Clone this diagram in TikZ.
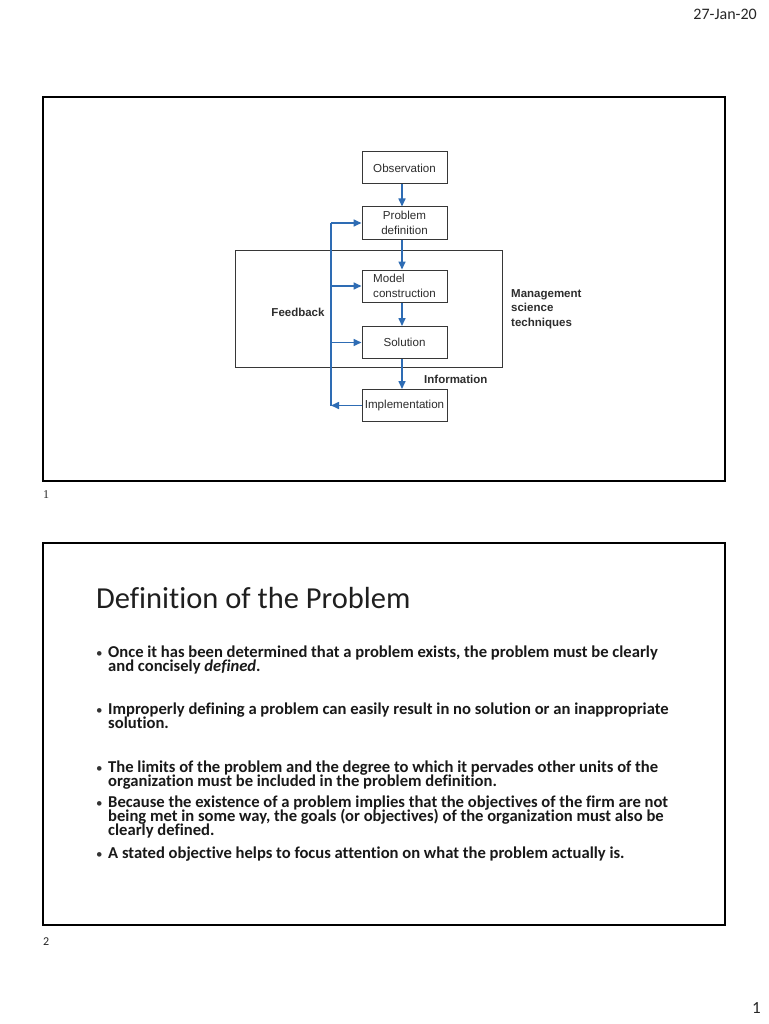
\documentclass[tikz,border=0pt]{standalone}
\usepackage{fontspec}
\setmainfont{Liberation Sans}
\newfontfamily\calibri[Ligatures={NoCommon,NoContextual}]{Carlito}
\newfontfamily\serifnum{Liberation Serif}
\usetikzlibrary{arrows.meta}
\definecolor{fbblue}{RGB}{46,108,180}
\definecolor{boxgray}{RGB}{55,55,55}
\definecolor{txtgray}{RGB}{45,45,45}
\begin{document}
\begin{tikzpicture}[x=1pt,y=-1pt,
 stepbox/.style={draw=boxgray, line width=1pt, minimum width=85pt, minimum height=32pt, inner sep=1pt, font=\fontsize{11.6}{14.5}\selectfont, text=txtgray},
 flow/.style={draw=fbblue, line width=1.6pt, -{Triangle[length=8pt,width=7pt]}},
 fbline/.style={draw=fbblue, line width=1.6pt},
 lbl/.style={font=\bfseries\fontsize{11.5}{14.5}\selectfont, text=txtgray},
 slide/.style={draw=black, line width=1.2pt},
 body/.style={anchor=base west, inner sep=0pt, font=\calibri\bfseries\fontsize{16.6}{14}\selectfont, text=black!90},
 dot/.style={anchor=base west, inner sep=0pt, font=\calibri\fontsize{13}{14}\selectfont, text=black!80},
 plain/.style={inner sep=0pt, text=black!85},
]
\useasboundingbox (0,0) rectangle (768,1024);
\fill[white] (0,0) rectangle (768,1024);

% header and page numbers
\node[plain, anchor=base east, font=\calibri\fontsize{16}{18}\selectfont] (date) at (757,19.5) {27-Jan-20};
\node[plain, anchor=base west, font=\serifnum\fontsize{12}{14}\selectfont] (n1) at (43,498) {1};
\node[plain, anchor=base west, font=\calibri\fontsize{12}{14}\selectfont] (n2) at (43,945) {2};
\node[plain, anchor=base east, font=\calibri\fontsize{17}{18}\selectfont] (pg) at (761,1013) {1};

% slide frames
\node[slide, minimum width=682pt, minimum height=384pt, inner sep=0pt] (slideA) at (384,289) {};
\node[slide, minimum width=682pt, minimum height=382pt, inner sep=0pt] (slideB) at (384,734) {};

% ---------- diagram ----------
\node[draw=boxgray, line width=1pt, minimum width=267pt, minimum height=117pt, inner sep=0pt] (mst) at (368.5,308.5) {};

\node[stepbox] (obs) at (404.5,168) {Observation};
\node[stepbox, align=center] (prob) at (404.5,223) {Problem\\definition};
\node[stepbox, align=left] (model) at (404.5,286) {Model\\construction};
\node[stepbox] (sol) at (404.5,342.5) {Solution};
\node[stepbox] (impl) at (404.5,405.5) {Implementation};

\draw[flow] ([xshift=-2.5pt]obs.south) -- ([xshift=-2.5pt]prob.north);
\draw[flow] ([xshift=-2.5pt]prob.south) -- ([xshift=-2.5pt]model.north);
\draw[flow] ([xshift=-2.5pt]model.south) -- ([xshift=-2.5pt]sol.north);
\draw[flow] ([xshift=-2.5pt]sol.south) -- ([xshift=-2.5pt]impl.north);

\coordinate (fbtop) at (331,223);
\coordinate (fbbot) at (331,405.5);
\draw[fbline] (fbtop) -- (fbbot);
\draw[flow] (impl.west) -- (fbbot);
\draw[flow] (fbtop) -- (prob.west);
\draw[flow] (fbtop |- model.west) -- (model.west);
\draw[flow] (fbtop |- sol.west) -- (sol.west);

\node[lbl] (fb) at (298,312) {Feedback};
\node[lbl, anchor=west, inner sep=0pt] (info) at (424,379) {Information};
\node[lbl, anchor=west, align=left, inner sep=0pt] (msl) at (511,309) {Management\\science\\techniques};

% ---------- slide 2 ----------
\node[plain, anchor=base west, font=\calibri\fontsize{30.5}{36}\selectfont, text=black!88] (title) at (96,608) {Definition of the Problem};

\node[dot] (d1) at (96,657) {•};
\node[body] (b1a) at (108,657) {Once it has been determined that a problem exists, the problem must be clearly};
\node[body] (b1b) at (108,671) {and concisely \textit{defined}.};

\node[dot] (d2) at (96,714) {•};
\node[body] (b2a) at (108,714) {Improperly defining a problem can easily result in no solution or an inappropriate};
\node[body] (b2b) at (108,728) {solution.};

\node[dot] (d3) at (96,772) {•};
\node[body] (b3a) at (108,772) {The limits of the problem and the degree to which it pervades other units of the};
\node[body] (b3b) at (108,786) {organization must be included in the problem definition.};

\node[dot] (d4) at (96,807) {•};
\node[body] (b4a) at (108,807) {Because the existence of a problem implies that the objectives of the firm are not};
\node[body] (b4b) at (108,821) {being met in some way, the goals (or objectives) of the organization must also be};
\node[body] (b4c) at (108,835) {clearly defined.};

\node[dot] (d5) at (96,858) {•};
\node[body] (b5a) at (108,858) {A stated objective helps to focus attention on what the problem actually is.};
\end{tikzpicture}
\end{document}
